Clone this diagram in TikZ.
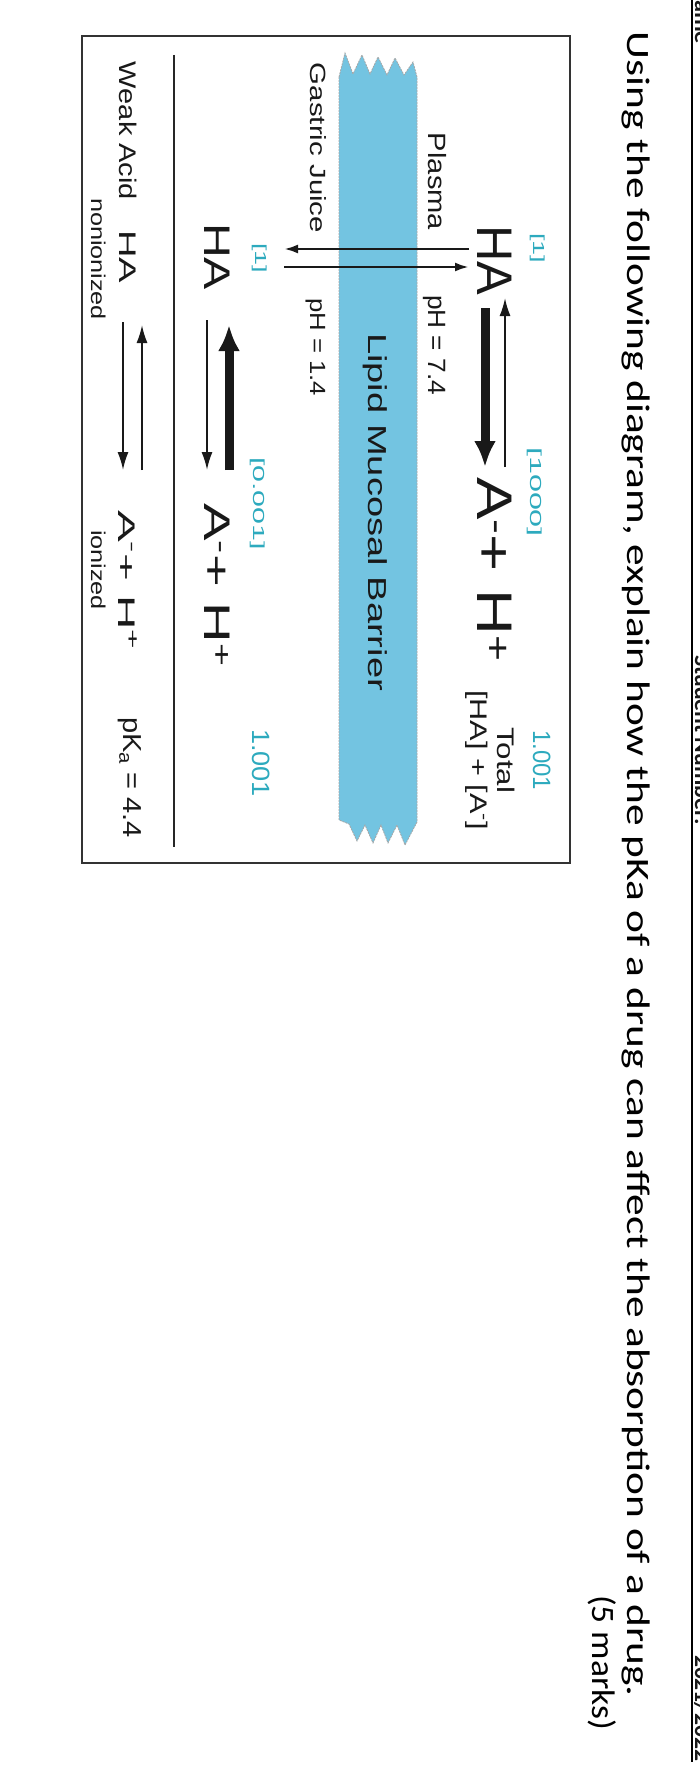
\documentclass[tikz,border=0pt]{standalone}
\usepackage{graphicx}
\usepackage{fontspec}
\setmainfont{Liberation Sans}
\newfontfamily\carl{Carlito}
\usetikzlibrary{arrows.meta}
\definecolor{tealtxt}{RGB}{45,170,190}
\definecolor{barrierblue}{RGB}{115,196,225}
\definecolor{inkdark}{RGB}{25,25,25}
\newcommand\ft[3]{\resizebox{#1pt}{\height}{\fontsize{#2}{#2}\selectfont #3}}
\tikzset{
  lbl/.style={rotate=-90, anchor=base west, inner sep=0pt, outer sep=0pt, text=inkdark},
  tlbl/.style={lbl, text=tealtxt},
  thinar/.style={draw=inkdark, line width=1.8pt, -{Latex[length=18pt,width=11pt]}},
  thickar/.style={draw=inkdark, line width=9pt, -{Latex[length=26pt,width=22pt]}},
  memar/.style={draw=inkdark, line width=2.6pt, -{Latex[length=14pt,width=9pt]}},
}
\begin{document}
\begin{tikzpicture}[x=1pt,y=-1pt]
\useasboundingbox (0,0) rectangle (700,1774);
\clip (0,0) rectangle (700,1774);
\fill[white] (0,0) rectangle (700,1774);

% header (cut off)
\draw[line width=2.5pt, black] (692,0) -- (692,1762);
\node[lbl] (hname) at (695,-16) {\ft{60}{23}{\carl\bfseries Name}};
\node[lbl] (hnum) at (695,655) {\ft{170}{23}{\carl\bfseries Student Number:}};
\node[lbl] (hyear) at (695,1655) {\ft{106}{23}{\carl\bfseries 2021/2022}};

% question
\node[lbl, text=black] (q) at (627,32) {\ft{1665}{32.6}{\carl Using the following diagram, explain how the pKa of a drug can affect the absorption of a drug.}};
\node[lbl, text=black] (marks) at (592,1595) {\ft{135}{32.6}{\carl (5 marks)}};

% frame
\draw[line width=1.4pt, black!80] (82,36) rectangle (570,863);

% barrier
\fill[barrierblue, draw=gray!70, line width=0.8pt, dash pattern=on 2pt off 1pt]
 (339,77) -- (345,53) -- (353,74) -- (362,55) -- (370,74) -- (378,57) -- (387,75) -- (395,58) -- (404,75) -- (413,62) -- (417,77)
 -- (417,822) -- (405,845) -- (397,825) -- (388,843) -- (381,825) -- (373,843) -- (365,825) -- (357,841) -- (349,824) -- (339,820) -- cycle;
\node[lbl] (lipid) at (368,333) {\ft{358}{26}{Lipid Mucosal Barrier}};

% side labels
\node[lbl] (plasma) at (428,133) {\ft{97}{25}{Plasma}};
\node[lbl] (ph74) at (428,295) {\ft{100}{25}{pH = 7.4}};
\node[lbl] (gastric) at (310,63) {\ft{170}{22}{Gastric Juice}};
\node[lbl] (ph14) at (310,298) {\ft{98}{22}{pH = 1.4}};

% plasma row
\node[lbl] (hatop) at (477,225) {\ft{70}{50}{HA}};
\node[lbl] (atop) at (477,477) {\ft{185}{50}{A\textsuperscript{-}+ H\textsuperscript{+}}};
\node[tlbl] (c1top) at (533,233) {\ft{30}{16}{[1]}};
\node[tlbl] (c1000) at (530,447) {\ft{90}{16}{[1000]}};
\node[tlbl] (tot1) at (533,730) {\ft{60}{25}{1.001}};
\node[lbl] (total) at (497,727) {\ft{66}{24}{Total}};
\node[lbl] (haa) at (470,690) {\ft{140}{24}{[HA] + [A\textsuperscript{-}]}};

% gastric row
\node[lbl] (hagas) at (204,223) {\ft{67}{37}{HA}};
\node[lbl] (agas) at (204,503) {\ft{164}{37}{A\textsuperscript{-}+ H\textsuperscript{+}}};
\node[tlbl] (c1gas) at (255,243) {\ft{30}{16}{[1]}};
\node[tlbl] (c0001) at (253,457) {\ft{93}{16}{[0.001]}};
\node[tlbl] (tot2) at (252,729) {\ft{68}{25}{1.001}};

% separator
\draw[line width=2pt, black!85] (174,55) -- (174,847);

% weak acid row
\node[lbl] (weak) at (119,62) {\ft{138}{24}{Weak Acid}};
\node[lbl] (nonion) at (91,198) {\ft{122}{20}{nonionized}};
\node[lbl] (haweak) at (119,230) {\ft{53}{24}{HA}};
\node[lbl] (aweak) at (118,510) {\ft{140}{24}{A\textsuperscript{-}+ H\textsuperscript{+}}};
\node[lbl] (ion) at (91,530) {\ft{80}{20}{ionized}};
\node[lbl] (pka) at (123,717) {\ft{121}{26}{pK\textsubscript{a} = 4.4}};

% arrow end points
\coordinate (m1s) at (469,249); \coordinate (m1e) at (284,249);
\coordinate (m2s) at (284,267); \coordinate (m2e) at (469,267);
\coordinate (t1s) at (485,308); \coordinate (t1e) at (485,467);
\coordinate (t2s) at (505,467); \coordinate (t2e) at (505,298);
\coordinate (g1s) at (207,320); \coordinate (g1e) at (207,470);
\coordinate (g2s) at (229,470); \coordinate (g2e) at (229,325);
\coordinate (w1s) at (142,470); \coordinate (w1e) at (142,325);
\coordinate (w2s) at (123,322); \coordinate (w2e) at (123,470);

\draw[memar] (m1s) -- (m1e);
\draw[memar] (m2s) -- (m2e);
\draw[thickar] (t1s) -- (t1e);
\draw[thinar] (t2s) -- (t2e);
\draw[thinar] (g1s) -- (g1e);
\draw[thickar] (g2s) -- (g2e);
\draw[thinar] (w1s) -- (w1e);
\draw[thinar] (w2s) -- (w2e);
\end{tikzpicture}
\end{document}
